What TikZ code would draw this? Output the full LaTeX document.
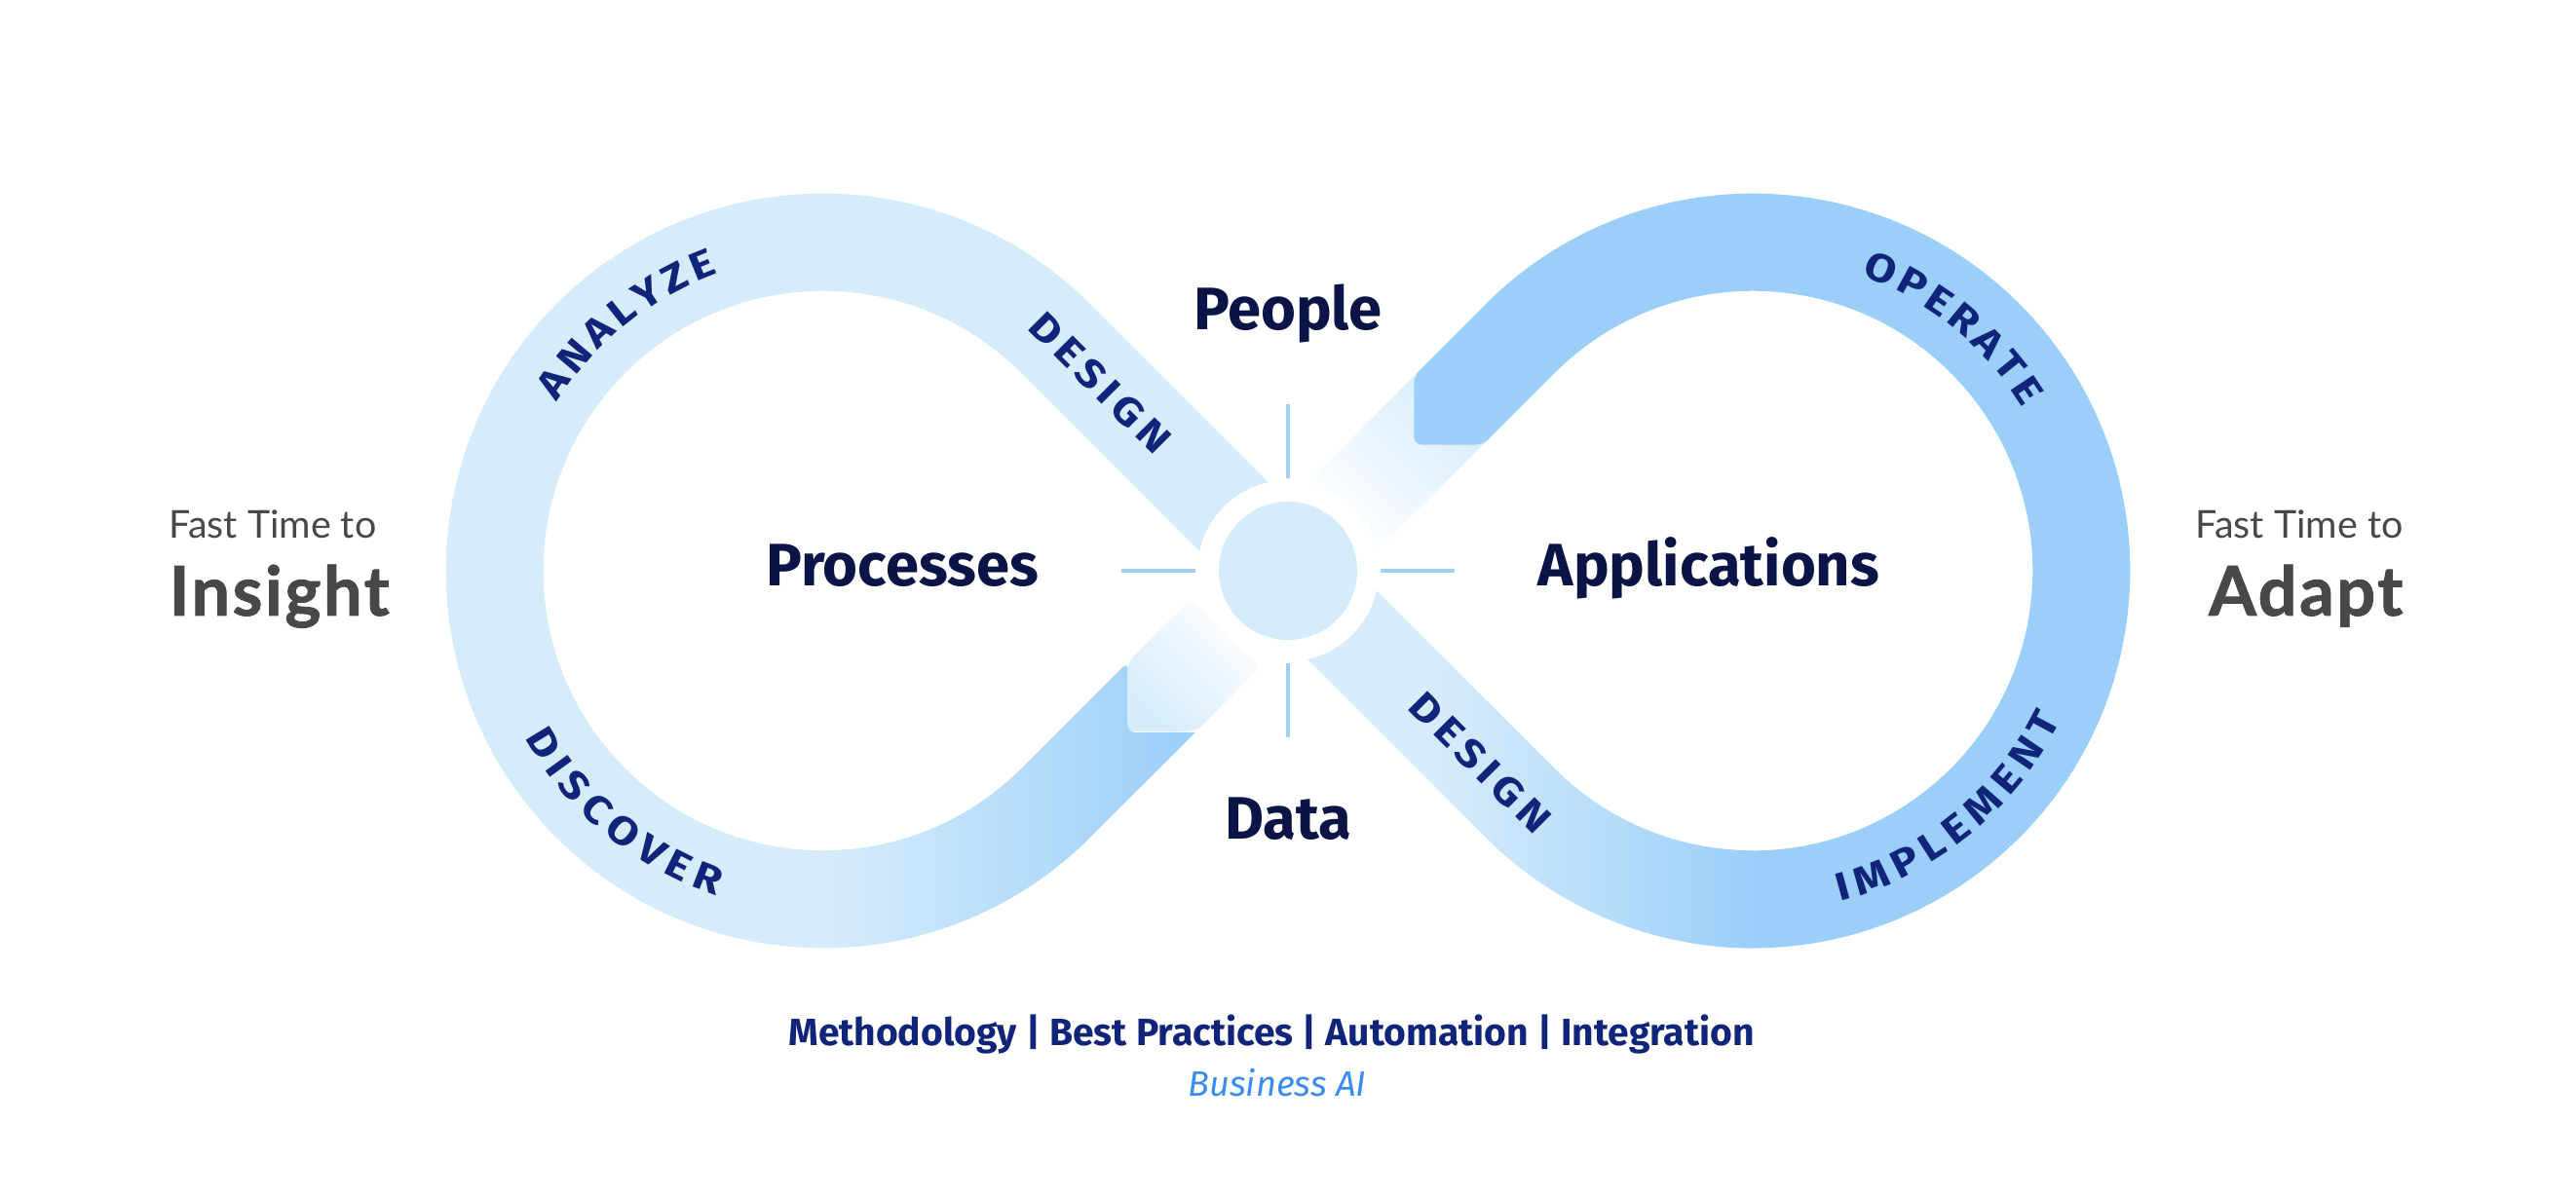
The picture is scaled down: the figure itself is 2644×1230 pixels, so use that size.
\documentclass[tikz,border=0pt]{standalone}
\usepackage{fontspec}
\setmainfont{Fira Sans}
\newfontfamily\latofont{Lato}
\usetikzlibrary{positioning, decorations.text}

\definecolor{paleblue}{RGB}{215,236,251}
\definecolor{midblue}{RGB}{155,207,249}
\definecolor{tickblue}{RGB}{158,208,248}
\definecolor{darknavy}{RGB}{10,20,70}
\definecolor{labelnavy}{RGB}{16,37,122}
\definecolor{aiblue}{RGB}{58,140,242}
\definecolor{sidegray}{RGB}{72,72,72}

\newcommand{\bandfont}{\fontsize{11.5}{11.5}\selectfont\bfseries\addfontfeatures{FakeStretch=1.15}\kern0.15em}

\begin{document}
\begin{tikzpicture}[x=0.01cm, y=0.01cm,
  every node/.style={inner sep=0pt},
  band/.style={line width=1cm},
  tick/.style={draw=tickblue, line width=0.04cm},
  mainlabel/.style={font=\fontsize{17.5}{17.5}\selectfont\bfseries, text=darknavy, anchor=base},
  sidesmall/.style={font=\latofont\fontsize{11.2}{11.2}\selectfont, text=sidegray},
  sidebig/.style={font=\latofont\fontsize{20}{20}\selectfont\bfseries\addfontfeatures{LetterSpace=3.5, FakeBold=1.2}, text=sidegray},
  bandtext/.style={decorate, decoration={text along path, text align=center, raise=-3.95pt, text color=labelnavy, text={|\bandfont|#1}}}]
  \useasboundingbox (-1322,-644) rectangle (1322,586);

  \coordinate (C) at (0,0);
  \coordinate (L) at (-477,0);
  \coordinate (R) at (477,0);
  \path (L) ++(45:337.3) coordinate (lt);
  \path (R) ++(225:337.3) coordinate (rb);

  % Right loop
  \draw[band, midblue] (R) ++(-100:337.3) arc[start angle=-100, end angle=135, radius=337.3];
  \begin{scope}[rotate=45]
    \shade[top color=paleblue, bottom color=white, shading angle=-45] (80,-50) rectangle (240,50);
    \fill[midblue, rounded corners=0.08cm] (183,0) -- (233,50) -- (345,50) -- (345,-50) -- (233,-50) -- cycle;
  \end{scope}

  % Left loop
  \draw[band, paleblue] (C) -- (lt) arc[start angle=45, end angle=315, radius=337.3];
  \shade[left color=paleblue, right color=midblue]
    (-477,-387.3) arc[start angle=270, end angle=315, radius=387.3]
    -- (-95.2,-166) [rounded corners=0.08cm] -- (-164,-166) -- (-164,-93.4) [sharp corners]
    -- (-273.8,-203.2) arc[start angle=315, end angle=270, radius=287.3] -- cycle;
  \begin{scope}[rotate=45]
    \shade[top color=white, bottom color=paleblue, shading angle=-45, rounded corners=0.08cm]
      (-233,0) -- (-183,50) -- (-90,50) -- (-90,-50) -- (-183,-50) -- cycle;
  \end{scope}

  % Lower right diagonal
  \draw[band, paleblue] (C) -- (rb) arc[start angle=225, end angle=260, radius=337.3];
  \shade[left color=paleblue, right color=midblue]
    (150,-79.3) -- (273.8,-203.2) arc[start angle=225, end angle=270, radius=287.3]
    -- (477,-387.3) arc[start angle=270, end angle=225, radius=387.3] -- (150,-220.7) -- cycle;

  % Hub
  \fill[white] (C) circle[radius=93];
  \node[circle, fill=paleblue, minimum size=1.42cm] (hub) at (C) {};
  \foreach \a in {0,90,180,270}
    \draw[tick] (hub.center) ++(\a:95) -- ++(\a:76);

  % Steps along the band
  \path[bandtext=ANALYZE] (L) ++(164:337.3) arc[start angle=164, end angle=94, radius=337.3];
  \path[bandtext=DISCOVER] (L) ++(195:337.3) arc[start angle=195, end angle=265, radius=337.3];
  \path[bandtext=OPERATE] (R) ++(86:337.3) arc[start angle=86, end angle=16, radius=337.3];
  \path[bandtext=IMPLEMENT] (R) ++(-86:337.3) arc[start angle=-86, end angle=-16, radius=337.3];
  \path[bandtext=DESIGN] (-330,330) -- (-60,60);
  \path[bandtext=DESIGN] (60,-60) -- (330,-330);

  % Main labels
  \node[mainlabel] (people) at (0,247) {People};
  \node[mainlabel] (processes) at (-396,-16) {Processes};
  \node[mainlabel] (apps) at (432,-16) {Applications};
  \node[mainlabel] (data) at (0,-276) {Data};

  % Side labels
  \node[sidesmall, anchor=base west] (fastl) at (-1149,33) {Fast Time to};
  \node[sidebig, anchor=base west] (insight) at (-1149,-46) {Insight};
  \node[sidesmall, anchor=base east] (fastr) at (1145,33) {Fast Time to};
  \node[sidebig, anchor=base east] (adapt) at (1145,-46) {Adapt};

  % Bottom lines
  \node[font=\fontsize{11.1}{11.1}\selectfont\bfseries, text=labelnavy, anchor=base] (pillars) at (-17,-488) {Methodology | Best Practices | Automation | Integration};
  \node[font=\fontsize{10.3}{10.3}\selectfont\itshape, text=aiblue, anchor=base] (bizai) at (-11,-539) {Business AI};
\end{tikzpicture}
\end{document}
